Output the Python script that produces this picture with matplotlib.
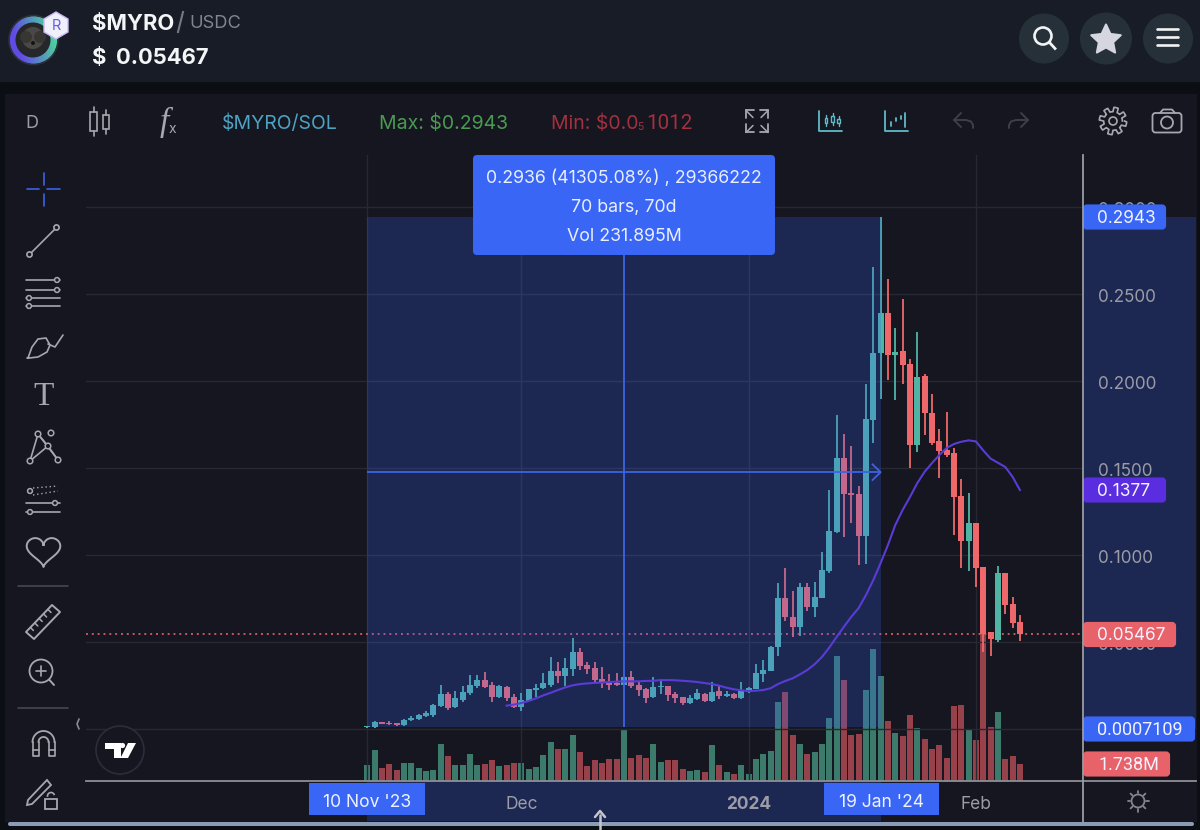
import numpy as np
import matplotlib
matplotlib.use("Agg")
import matplotlib.pyplot as plt
from matplotlib.patches import Rectangle, FancyBboxPatch, Circle, Polygon
from matplotlib.transforms import ScaledTranslation

plt.rcParams['font.family'] = ['Inter', 'DejaVu Sans']

# ---------- data ----------
opens = [.0007,.0007,.0036,.0032,.0030,.0021,.0048,.0053,.0071,.0080,
         .0132,.0201,.0122,.0164,.0203,.0245,.0279,.0251,.0183,.0241,
         .0180,.0126,.0160,.0224,.0232,.0251,.0331,.0302,.0341,.0442,
         .0366,.0348,.0285,.0268,.0264,.0252,.0298,.0252,.0228,.0182,
         .0239,.0243,.0199,.0180,.0145,.0172,.0199,.0160,.0214,.0189,
         .0197,.0176,.0212,.0228,.0316,.0333,.0469,.0753,.0643,.0584,
         .0814,.0699,.0751,.0906,.1130,.1556,.1352,.1349,.1107,.1774,
         .2160,.2390,.2148,.2171,.2096,.1631,.2027,.1815,.1654,.1602,
         .1585,.1337,.1079,.1182,.0929,.0555,.0509,.0895,.0716,.0613]
highs = [.0014,.0045,.0040,.0044,.0034,.0057,.0074,.0086,.0103,.0141,
         .0249,.0212,.0214,.0245,.0310,.0308,.0325,.0266,.0252,.0245,
         .0199,.0203,.0228,.0256,.0321,.0413,.0385,.0408,.0519,.0465,
         .0383,.0383,.0356,.0314,.0318,.0302,.0331,.0266,.0232,.0295,
         .0275,.0245,.0209,.0183,.0193,.0228,.0203,.0266,.0252,.0218,
         .0206,.0266,.0241,.0371,.0394,.0475,.0837,.0923,.0791,.0837,
         .0837,.0843,.1015,.1372,.1803,.1694,.1625,.1395,.1981,.2654,
         .2943,.2585,.2303,.2470,.2125,.2280,.2039,.1924,.1723,.1820,
         .1613,.1435,.1355,.1182,.0929,.0555,.0935,.0895,.0757,.0653]
lows = [.0005,.0005,.0025,.0021,.0017,.0017,.0044,.0048,.0065,.0068,
        .0126,.0107,.0117,.0151,.0193,.0232,.0232,.0155,.0178,.0159,
        .0117,.0103,.0157,.0180,.0226,.0241,.0260,.0247,.0302,.0337,
        .0314,.0260,.0232,.0222,.0245,.0249,.0233,.0186,.0149,.0178,
        .0199,.0159,.0145,.0134,.0141,.0164,.0155,.0155,.0168,.0182,
        .0168,.0172,.0206,.0226,.0268,.0331,.0417,.0619,.0527,.0532,
        .0676,.0642,.0751,.0895,.1125,.1102,.1182,.0941,.0946,.1642,
        .1895,.2004,.1889,.1981,.1498,.1590,.1688,.1631,.1441,.1562,
        .1113,.0923,.0906,.0814,.0440,.0417,.0498,.0659,.0578,.0504]
closes = [.0011,.0038,.0028,.0025,.0021,.0049,.0059,.0076,.0090,.0136,
          .0199,.0117,.0174,.0212,.0251,.0281,.0241,.0183,.0245,.0178,
          .0122,.0164,.0226,.0235,.0260,.0329,.0302,.0347,.0440,.0360,
          .0341,.0279,.0264,.0252,.0249,.0295,.0247,.0222,.0178,.0237,
          .0245,.0191,.0174,.0145,.0176,.0205,.0159,.0212,.0187,.0199,
          .0178,.0218,.0232,.0318,.0337,.0471,.0753,.0640,.0582,.0814,
          .0699,.0757,.0912,.1136,.1556,.1349,.1346,.1107,.1780,.2160,
          .2390,.2148,.2165,.2091,.1631,.2022,.1815,.1642,.1596,.1573,
          .1332,.1079,.1182,.0923,.0544,.0515,.0895,.0711,.0607,.0547]
volumes = [1.60,3.20,1.36,1.71,1.09,1.87,1.87,1.33,0.99,1.09,
           3.75,2.56,1.60,1.67,2.79,1.67,1.74,2.12,1.53,1.67,
           1.84,1.84,1.23,1.43,2.63,4.02,3.27,3.27,4.73,2.96,
           1.53,2.12,1.87,2.22,2.22,5.24,2.38,2.69,2.38,3.81,
           1.94,2.18,2.12,1.20,0.99,1.15,0.92,3.71,1.60,0.92,
           0.75,1.60,0.68,2.22,2.79,3.07,8.04,9.07,4.67,3.81,
           2.79,2.93,3.81,6.47,12.74,10.29,4.67,4.83,9.33,13.52,
           10.73,6.13,4.94,4.63,6.75,5.39,4.32,3.30,3.65,2.35,
           7.67,7.74,5.24,4.19,15.02,5.49,7.02,2.25,2.56,1.738]
ma_start = 19
ma_values = [.0132,.0138,.0147,.0159,.0174,.0191,.0206,.0222,.0237,.0249,
             .0256,.0260,.0263,.0265,.0268,.0270,.0272,.0272,.0272,.0274,
             .0275,.0279,.0279,.0278,.0275,.0272,.0268,.0262,.0256,.0247,
             .0235,.0226,.0220,.0216,.0218,.0222,.0232,.0256,.0274,.0289,
             .0312,.0337,.0370,.0412,.0466,.0527,.0586,.0643,.0693,.0768,
             .0854,.0952,.1056,.1171,.1257,.1332,.1412,.1477,.1527,.1573,
             .1614,.1637,.1650,.1658,.1652,.1600,.1553,.1529,.1505,.1448,.1372]
price_ticks = [0.00, 0.05, 0.10, 0.15, 0.20, 0.25, 0.30]
price_labels = ['', '0.0500', '0.1000', '0.1500', '0.2000', '0.2500', '0.3000']
date_ticks = [0, 21, 52, 83]
date_labels = ['', 'Dec', '2024', 'Feb']
range_start, range_end = 0, 70
range_low, range_high = 0.0007109, 0.2943
last_price = 0.05467
crosshair_bar = 35
crosshair_price = 0.1475

# ---------- colours ----------
PANEL = '#15161f'
TOPBAR = '#171c26'
DARK = '#0b0f13'
GRID = '#272832'
UP = '#50b4a4'
DOWN = '#ee686b'
VUP = '#3c7a6c'
VDOWN = '#97424a'
BLUE = '#3a66f5'
TINT = '#3a66ff'
ICON = '#a6a7af'
LABEL = '#9b9ca6'

W, H = 1200, 830
fig = plt.figure(figsize=(W / 100, H / 100), dpi=100, facecolor=DARK)


def pix_axes(z):
    a = fig.add_axes([0, 0, 1, 1], zorder=z)
    a.set_xlim(0, W)
    a.set_ylim(H, 0)
    a.axis('off')
    a.patch.set_alpha(0)
    return a


bg = pix_axes(0)
fg = pix_axes(5)

# chrome
bg.add_patch(Rectangle((0, 0), W, 82, fc=TOPBAR, ec='none'))
bg.add_patch(Rectangle((5, 94), 1192, 728, fc=PANEL, ec='none'))
bg.add_patch(Rectangle((367.3, 781), 513.2, 40, fc=TINT, alpha=.23, ec='none'))
bg.add_patch(Rectangle((1084, 217), 112, 512, fc=TINT, alpha=.23, ec='none'))

# ---------- chart axes ----------
L, R, T, B = 86, 1083, 155, 781
rect = [L / W, 1 - B / H, (R - L) / W, (B - T) / H]
xl = ((L - 367.3) / 7.333, (R - 367.3) / 7.333)
ylim = ((728.6 - B) / 1738.5, (728.6 - T) / 1738.5)

xs = np.arange(len(opens))
opens_a, highs_a, lows_a, closes_a = map(np.array, (opens, highs, lows, closes))
is_up = closes_a >= opens_a

av = fig.add_axes(rect, zorder=1)
av.patch.set_alpha(0)
av.set_xlim(*xl)
av.set_ylim(0, (B - T) * 0.1022)
av.axis('off')
av.bar(xs, volumes, width=0.82, color=[VUP if u else VDOWN for u in is_up])

ax = fig.add_axes(rect, zorder=2)
ax.patch.set_alpha(0)
ax.set_xlim(*xl)
ax.set_ylim(*ylim)
for s in ax.spines.values():
    s.set_visible(False)
ax.yaxis.tick_right()
ax.set_yticks(price_ticks)
ax.set_yticklabels(price_labels)
ax.set_xticks(date_ticks)
ax.set_xticklabels(date_labels)
ax.tick_params(axis='y', length=0, pad=10.5, labelcolor=LABEL, labelsize=12.3)
ax.tick_params(axis='x', length=0, pad=11, labelcolor=LABEL, labelsize=12.5)
nudge = ScaledTranslation(0, -2.5 / 72, fig.dpi_scale_trans)
for t in ax.get_yticklabels():
    t.set_verticalalignment('center')
    t.set_transform(t.get_transform() + nudge)
for t in ax.get_xticklabels():
    if t.get_text() == '2024':
        t.set_fontweight('bold')
ax.grid(True, color=GRID, lw=1)
ax.set_axisbelow(True)

colors = [UP if u else DOWN for u in is_up]
ax.vlines(xs, lows_a, highs_a, colors=colors, lw=1.3, zorder=3)
ax.bar(xs, np.maximum(np.abs(closes_a - opens_a), 0.0008),
       bottom=np.minimum(opens_a, closes_a), width=0.84, color=colors, zorder=4)

# measured-range overlay (covers candles, and the volume bars drawn on the axes below)
ax.add_patch(Rectangle((range_start, range_low), range_end - range_start, range_high - range_low,
                       fc=TINT, alpha=.23, ec='none', zorder=5))

ax.plot(np.arange(ma_start, ma_start + len(ma_values)), ma_values, color='#5a3bd6', lw=1.5, zorder=6)
ax.axhline(last_price, color='#c95562', lw=1.4, ls=(0, (1, 2.0)), zorder=2)
ax.vlines(crosshair_bar + 0.03, range_low, range_high, color='#3d62e6', lw=1.3, zorder=7)
ax.hlines(crosshair_price, range_start, range_end, color='#3d62e6', lw=1.3, zorder=7)
ax.plot([range_end - 1.1, range_end, range_end - 1.1],
        [crosshair_price + 0.0045, crosshair_price, crosshair_price - 0.0045],
        color='#3d62e6', lw=1.3, zorder=7)

# axis borders
fg.plot([86, 1196], [781, 781], color='#8d8e96', lw=1.3)
fg.plot([1083, 1083], [155, 822], color='#9a9ba3', lw=1.3)


def tag(x0, x1, yc, color, s, tx=1097, family=None, size=12.4):
    fg.add_patch(FancyBboxPatch((x0 + 2, yc - 10.5), x1 - x0 - 4, 21, boxstyle='round,pad=0,rounding_size=2',
                                mutation_aspect=1, fc=color, ec=color, lw=3))
    fg.text(tx, yc + 1, s, color='#f2f3ff', fontsize=size, va='center', ha='left',
            family=family if family else ['Inter', 'DejaVu Sans'])


tag(1083, 1166, 217, BLUE, '0.2943')
tag(1083, 1166, 490, '#5b2de0', '0.1377')
tag(1083, 1176, 634.5, '#e8626a', '0.05467')
tag(1083, 1195, 729, BLUE, '0.0007109', family=['Roboto'], size=13)
tag(1083, 1170, 764, '#e8626a', '1.738M', tx=1098.5, family=['Roboto'], size=13)

# date tags
for x0, x1, s in [(309, 425, "10 Nov '23"), (824, 939, "19 Jan '24")]:
    fg.add_patch(Rectangle((x0, 783), x1 - x0, 32, fc=BLUE, ec='none'))
    fg.text((x0 + x1) / 2, 802.5, s, color='#eef1ff', fontsize=12.6, ha='center', va='center')

# tooltip
fg.add_patch(FancyBboxPatch((476, 158), 296, 94, boxstyle='round,pad=3,rounding_size=4', fc=BLUE, ec='none'))
for yy, s in [(178.5, '0.2936 (41305.08%) , 29366222'), (207, '70 bars, 70d'), (236, 'Vol 231.895M')]:
    fg.text(624, yy, s, color='#e9eeff', fontsize=12.8, ha='center', va='center')

# ---------- header ----------
fg.text(92, 23.5, '$MYRO', color='#f4f5f7', fontsize=15.8, fontweight='bold', va='center')
fg.plot([183, 178], [12, 32], color='#727a86', lw=1.5)
fg.text(189, 24, 'USDC', color='#7e8591', fontsize=13.2, va='center')
fg.text(92, 58, '$', color='#f4f5f7', fontsize=15.8, fontweight='bold', va='center')
fg.text(116, 58, '0.05467', color='#f4f5f7', fontsize=15.8, fontweight='bold', va='center')

# avatar
yy, xx = np.mgrid[0:1:60j, 0:1:60j]
mix = np.clip(xx * 1.25 + (1 - yy) * 0.35 - 0.35, 0, 1)[..., None]
grad = np.array([0.38, 0.30, 0.90]) * (1 - mix) + np.array([0.30, 0.82, 0.62]) * mix
im = fg.imshow(grad, extent=(9, 58, 64, 15), zorder=2, aspect='auto')
im.set_clip_path(Circle((33.5, 40), 24, transform=fg.transData))
fg.set_xlim(0, W)
fg.set_ylim(H, 0)
fg.add_patch(Circle((33.5, 40), 24.5, fc='none', ec='#2e3138', lw=1.2, zorder=3))
fg.add_patch(Circle((33, 40), 17.5, fc='#26272b', ec='none', zorder=3))
fg.add_patch(Circle((33, 38), 11, fc='#4a4845', ec='none', zorder=3))
fg.add_patch(Circle((26, 37), 6, fc='#383633', ec='none', zorder=3))
fg.add_patch(Circle((40, 37), 6, fc='#383633', ec='none', zorder=3))
fg.add_patch(Circle((33, 43), 2, fc='#141414', ec='none', zorder=3))
fg.add_patch(Polygon([[56, 12], [68, 19], [68, 32], [56, 39], [44, 32], [44, 19]], closed=True,
                     fc='#f0f0fa', ec='#c9b8f5', lw=1, zorder=4))
fg.text(56, 26, 'R', color='#6a5be8', fontsize=10.5, ha='center', va='center', zorder=5)

# top-right buttons
for cx, r in [(1044, 25), (1106, 26), (1168, 25)]:
    fg.add_patch(Circle((cx, 38.5), r, fc='#263038', ec='none'))
fg.add_patch(Circle((1043, 36), 8.5, fc='none', ec='#f2f3f5', lw=1.9))
fg.plot([1049.5, 1055], [42.5, 48.5], color='#f2f3f5', lw=2)
star = []
for k in range(10):
    r_ = 15.5 if k % 2 == 0 else 7.5
    a_ = np.deg2rad(-90 + 36 * k)
    star.append([1106 + r_ * np.cos(a_), 40 + r_ * np.sin(a_)])
fg.add_patch(Polygon(star, closed=True, fc='#d6d6e0', ec='#d6d6e0', lw=1.5, joinstyle='round'))
for yy_ in (29, 37.5, 45.5):
    fg.plot([1157, 1178], [yy_, yy_], color='#f2f3f5', lw=1.9, solid_capstyle='round')

# ---------- toolbar ----------
fg.text(32, 123, 'D', color=LABEL, fontsize=13, ha='center', va='center')


def ln(xs_, ys_, c=ICON, lw=1.2, **k):
    fg.plot(xs_, ys_, color=c, lw=lw, solid_capstyle='round', **k)


def candle(x, y0, y1, w0, w1, hw, c=ICON, lw=1.2):
    fg.add_patch(Rectangle((x - hw, y0), 2 * hw, y1 - y0, fc='none', ec=c, lw=lw))
    ln([x, x], [w0, y0], c, lw)
    ln([x, x], [y1, w1], c, lw)


candle(93.5, 112, 131, 107, 136, 3.5)
candle(106, 115, 129, 110, 134, 3)
fg.text(164, 122, 'f', color=ICON, fontsize=24, family=['Liberation Serif'], style='italic', ha='center', va='center')
fg.text(172, 129, 'x', color=ICON, fontsize=10, ha='center', va='center')
fg.text(222, 123.5, '$MYRO/SOL', color='#4ca3c4', fontsize=14, va='center')
fg.text(379, 123.5, 'Max: $0.2943', color='#4b9a52', fontsize=14, va='center')
fg.text(551, 123.5, 'Min: $0.0', color='#a5303f', fontsize=14, va='center')
fg.text(637, 127.5, '5', color='#a5303f', fontsize=7.5, va='center')
fg.text(646.5, 123.5, '1012', color='#a5303f', fontsize=14.8, va='center', family=['Roboto'])

# expand icon
for sx, sy in [(-1, -1), (1, -1), (-1, 1), (1, 1)]:
    cx, cy = 757 + sx * 11, 121.5 + sy * 11
    ln([cx, cx - sx * 8], [cy, cy], ICON, 1.3)
    ln([cx, cx], [cy, cy - sy * 8], ICON, 1.3)
    ln([cx, cx - sx * 7], [cy, cy - sy * 7], ICON, 1.1)

# chart-type icons
TEAL = '#5fbcca'
for x0 in (819, 885):
    ln([x0, x0, x0 + 23], [111, 131, 131], TEAL, 1.3)
for x_, a, b in [(826, 115, 126), (832.5, 113, 125), (838.5, 116, 126)]:
    candle(x_, a + 3, b - 3, a, b, 1.4, TEAL, 1)
for x_, a, b in [(891, 122, 126), (896, 118, 121), (901, 116, 119), (905, 113, 127)]:
    ln([x_, x_], [a, b], TEAL, 1.3)

# undo / redo
UD = '#3d3f49'
ln([954, 966, 971, 973, 973], [120, 120, 121.5, 125, 128], UD, 1.4)
ln([961, 954, 961], [113, 120, 127], UD, 1.4)
ln([1028, 1016, 1011, 1009, 1009], [120, 120, 121.5, 125, 128], UD, 1.4)
ln([1021, 1028, 1021], [113, 120, 127], UD, 1.4)

# gear
th = np.linspace(0, 2 * np.pi, 97)
rg = 11.5 + 2.2 * np.sign(np.sin(8 * th))
fg.plot(1113 + rg * np.cos(th), 121 + rg * np.sin(th), color=ICON, lw=1.2)
fg.add_patch(Circle((1113, 121), 4, fc='none', ec=ICON, lw=1.2))
# camera
fg.add_patch(FancyBboxPatch((1152.5, 113), 29, 19.5, boxstyle='round,pad=0,rounding_size=3', fc='none', ec=ICON, lw=1.3))
ln([1160, 1163, 1172, 1175], [113, 109.5, 109.5, 113], ICON, 1.3)
fg.add_patch(Circle((1167, 122.5), 6, fc='none', ec=ICON, lw=1.3))

# ---------- sidebar ----------
CH = '#3d62e6'
ln([27, 39], [189, 189], CH, 1.2)
ln([47, 60], [189, 189], CH, 1.2)
ln([43.5, 43.5], [173, 185], CH, 1.2)
ln([43.5, 43.5], [194, 206], CH, 1.2)

ln([31, 55], [253, 229])
fg.add_patch(Circle((29.5, 254.5), 2.6, fc=PANEL, ec=ICON, lw=1.2, zorder=3))
fg.add_patch(Circle((56.5, 227.5), 2.6, fc=PANEL, ec=ICON, lw=1.2, zorder=3))

for yy_, c1 in [(280, 57), (290, 57), (298, 29), (306, 29)]:
    ln([26, 60], [yy_, yy_])
    fg.add_patch(Circle((c1, yy_), 2.4, fc=PANEL, ec=ICON, lw=1.1, zorder=3))

# brush
ln([28, 32, 38, 46, 50, 47, 38, 29, 27], [358, 347, 339, 338, 345, 352, 357, 358, 358])
ln([48, 55, 63], [344, 347, 335])

fg.text(44, 397, 'T', color=ICON, fontsize=24, family=['Liberation Serif'], ha='center', va='center')

nodes = [(30, 461), (38, 434), (48, 446), (58, 460)]
ln([30, 38, 48, 58], [461, 434, 446, 460])
ln([38, 58], [434, 460])
ln([30, 48], [461, 446])
for n in nodes + [(51, 433)]:
    fg.add_patch(Circle(n, 2.8, fc=PANEL, ec=ICON, lw=1.1, zorder=3))

ln([33, 58], [488, 486], ICON, 1.0, ls=(0, (1, 2)))
ln([33, 58], [495, 491], ICON, 1.0, ls=(0, (1, 2)))
for yy_, c1 in [(503, 55), (512, 30)]:
    ln([26, 60], [yy_, yy_])
    fg.add_patch(Circle((c1, yy_), 2.4, fc=PANEL, ec=ICON, lw=1.1, zorder=3))
fg.add_patch(Circle((30, 491), 2.4, fc=PANEL, ec=ICON, lw=1.1, zorder=3))

# heart
t = np.linspace(0, 2 * np.pi, 80)
fg.plot(43.5 + 1.05 * 16 * np.sin(t) ** 3,
        550 - 1.0 * (13 * np.cos(t) - 5 * np.cos(2 * t) - 2 * np.cos(3 * t) - np.cos(4 * t)),
        color=ICON, lw=1.4)

for yy_ in (586, 708):
    ln([18, 68], [yy_, yy_], '#4a4b55', 1.1)

# ruler
fg.add_patch(Polygon([[26, 632], [52, 605], [60, 612], [34, 639]], closed=True, fc='none', ec=ICON, lw=1.4, joinstyle='round'))
for k in range(1, 6):
    px, py = 26 + k * 4.4, 632 - k * 4.5
    ln([px, px + 3], [py, py + 3], ICON, 1.1)

# zoom
fg.add_patch(Circle((41, 671), 11.5, fc='none', ec=ICON, lw=1.3))
ln([49.5, 54], [680, 685], ICON, 1.4)
ln([36, 46], [671, 671], ICON, 1.2)
ln([41, 41], [666, 676], ICON, 1.2)

# magnet
t = np.linspace(np.pi, 2 * np.pi, 30)
fg.plot(43.5 + 11 * np.cos(t), 742 + 11 * np.sin(t), color=ICON, lw=1.3)
fg.plot(43.5 + 5 * np.cos(t), 742 + 5 * np.sin(t), color=ICON, lw=1.3)
ln([32.5, 32.5, 38.5, 38.5], [742, 756, 756, 742])
ln([48.5, 48.5, 54.5, 54.5], [742, 756, 756, 742])
ln([32.5, 38.5], [750, 750])
ln([48.5, 54.5], [750, 750])

# pencil + lock
fg.add_patch(Polygon([[28, 800], [47, 780], [51, 785], [32, 804], [27, 805]], closed=True, fc='none', ec=ICON, lw=1.3))
fg.add_patch(Rectangle((45, 799), 12, 9.5, fc=PANEL, ec=ICON, lw=1.3, zorder=3))
t = np.linspace(np.pi, 1.85 * np.pi, 15)
fg.plot(51 + 3.5 * np.cos(t), 796 + 3.5 * np.sin(t), color=ICON, lw=1.2)

# collapse chevron
ln([79, 77, 79], [719, 724, 729], '#8a8b93', 1.2)

# TV logo
fg.add_patch(Circle((120, 750), 24, fc=PANEL, ec='#2c2d37', lw=1.2))
fg.add_patch(Polygon([[105, 743], [121, 743], [121, 758], [114, 758], [114, 749], [105, 749]], closed=True, fc='white', ec='none'))
fg.add_patch(Circle((122.5, 745.5), 2.6, fc='white', ec='none'))
fg.add_patch(Polygon([[128, 743], [136, 743], [128, 758], [120.5, 758]], closed=True, fc='white', ec='none'))

# brightness icon
fg.add_patch(Circle((1138, 801), 6.5, fc='none', ec='#84858d', lw=1.3))
for k in range(8):
    a_ = np.deg2rad(45 * k)
    ln([1138 + 8 * np.cos(a_), 1138 + 10.5 * np.cos(a_)], [801 + 8 * np.sin(a_), 801 + 10.5 * np.sin(a_)], '#84858d', 1.3)

# scrollbar and arrow
fg.add_patch(FancyBboxPatch((8, 822), 1186, 4, boxstyle='round,pad=0,rounding_size=2', fc='#8b9bb4', ec='none'))
ln([600, 600], [815, 829], '#c3c5cc', 1.8)
ln([595, 600, 605], [817, 811, 817], '#c3c5cc', 1.8)

fig.savefig('out.png', dpi=100, facecolor=fig.get_facecolor())
